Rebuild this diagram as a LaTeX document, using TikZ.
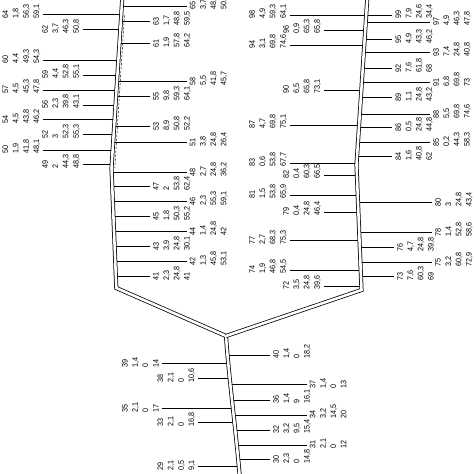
\documentclass[tikz,border=0pt]{standalone}
\usepackage{fontspec}
\setmainfont{Liberation Sans}[FakeStretch=0.9]
\usetikzlibrary{calc}

\tikzset{
  trunk/.style={double, double distance=2.6pt, line width=0.75pt, line join=miter},
  leaf/.style={line width=0.6pt},
  lab/.style={rotate=90, align=left, inner sep=0pt, font=\fontsize{8}{10.3}\selectfont},
  labl/.style={lab, anchor=south west},
  labr/.style={lab, anchor=north west},
}

\begin{document}
\begin{tikzpicture}[x=1pt, y=-1pt]
    \useasboundingbox (0,0) rectangle (474,474);
    \clip (0,0) rectangle (474,474);

    % First, locate the bends of the trunks
    \coordinate (lt0) at (122.5,-5);
    \coordinate (lt1) at (111.5,168);
    \coordinate (lt2) at (116.3,288);
    \coordinate (rt0) at (367.5,-5);
    \coordinate (rt1) at (356.5,165);
    \coordinate (rt2) at (361.5,290);
    \coordinate (jn)  at (226,336);
    \coordinate (st)  at (240,480);

    % Leaves with the label on the left
    \foreach \id/\y/\bx/\tx/\va/\vb/\vc in {
        64/14.7/121.2/43.3/{1,8}/{56,3}/{59,1},
        60/60/118.4/43.3/{4,4}/{49,3}/{54,3},
        57/90/116.5/43.3/{4,5}/{45,3}/{47,8},
        54/119.3/114.6/43.3/{4,5}/{43,8}/{46,2},
        50/150/112.6/43.3/{1,9}/{41,8}/{48,1},
        62/29.3/120.3/83/{3,7}/{46,3}/{50,8},
        59/75/117.4/83/{4,4}/{52,8}/{55,1},
        56/105/115.5/83/{2,3}/{39,8}/{43,1},
        52/134.3/113.6/83/3/{52,3}/{55,3},
        49/164.3/111.7/83/2/{44,3}/{48,8},
        98/15/366.2/290/{4,9}/{59,3}/{64,1},
        94/45/364.3/290/{3,1}/{69,8}/{74,6},
        87/125/359.1/290/{4,7}/{69,8}/{75,1},
        83/163/356.6/290/{0,6}/{53,8}/{67,7},
        81/195/357.7/290/{1,5}/{53,8}/{65,9},
        77/240.7/359.5/290/{2,7}/{68,3}/{75,3},
        74/270/360.7/290/{1,9}/{46,8}/{54,5},
        96/30/365.2/324/{0,9}/{65,3}/{65,8},
        90/90/361.4/324/{6,5}/{65,8}/{73,1},
        82/175/356.9/324/{0,4}/{60,3}/{66,5},
        79/212/358.4/324/{0,4}/{24,8}/{46,4},
        72/286/361.3/324/{3,5}/{24,8}/{39,6},
        39/363.3/228.2/161.7/{1,4}/0/14,
        35/408.3/232.8/161.7/{2,1}/0/17,
        38/378.3/229.7/198.3/{2,1}/0/{10,6},
        33/422.7/234.5/198.3/{2,1}/0/{16,8},
        29/466.7/238.8/198.3/{2,1}/{0,5}/{9,1}}{
        \coordinate (b\id) at (\bx,\y);
        \coordinate (t\id) at (\tx,\y);
        \node[labl] (n\id) at (\tx-3,\y+4) {\id\\\va\\\vb\\\vc};
        \draw[leaf] (b\id) -- (t\id);
    }

    % Leaves with the label on the right
    \foreach \id/\y/\bx/\tx/\va/\vb/\vc in {
        65/6/121.8/186.7/{3,7}/{48,3}/{50,8},
        58/81.7/117.0/186.7/{5,5}/{41,8}/{45,7},
        51/142.7/113.1/186.7/{3,8}/{24,8}/{26,4},
        48/172.7/111.7/186.7/{2,7}/{24,8}/{36,2},
        46/201.7/112.8/186.7/{2,3}/{55,3}/{59,1},
        44/231.7/114.0/186.7/{1,4}/{24,8}/42,
        42/261.7/115.2/186.7/{1,3}/{45,8}/{53,1},
        63/21.7/120.8/150/{1,7}/{48,8}/{59,5},
        61/43.3/119.4/150/{1,9}/{57,8}/{64,2},
        55/96.7/116.0/150/{9,8}/{59,3}/{64,1},
        53/126.7/114.1/150/{8,9}/{50,8}/{52,2},
        47/186.7/112.2/150/2/{53,8}/{62,4},
        45/216.7/113.4/150/{1,8}/{50,3}/{55,2},
        43/246.7/114.6/150/{3,9}/{24,8}/{30,1},
        41/276.7/115.8/150/{2,3}/{24,8}/41,
        99/15/366.2/392.3/{7,9}/{24,6}/{34,4},
        95/39.3/364.6/392.3/{4,9}/{43,3}/{46,2},
        92/68.3/362.8/392.3/{7,6}/{61,8}/68,
        89/97.7/360.9/392.3/{1,1}/{24,8}/{43,2},
        86/127.7/358.9/392.3/{0,5}/{24,8}/{44,8},
        84/156.7/357.0/392.3/{1,6}/{40,8}/62,
        76/247.3/359.8/394/{4,7}/{24,8}/{39,8},
        73/276.7/361.0/394/{7,6}/{60,3}/69,
        97/22/365.8/430/{4,9}/{46,3}/{47,8},
        93/52.7/363.8/430/{7,4}/{24,8}/{40,8},
        91/82.7/361.8/430/{6,8}/{69,8}/73,
        88/114.3/359.8/430/{5,5}/{69,8}/{74,6},
        85/142.7/357.9/430/{0,2}/{44,3}/{58,3},
        80/202.7/358.0/432/3/{24,8}/{43,4},
        78/232.7/359.2/432/{1,4}/{52,8}/{58,6},
        75/262.7/360.4/432/{3,2}/{60,8}/{72,9},
        40/355/227.5/270/{1,4}/0/{18,2},
        36/400/232.0/270/{1,4}/9/{16,1},
        32/430/235.2/270/{3,2}/{9,5}/{15,4},
        30/459.3/238.2/270/{2,3}/0/{14,8},
        37/384.3/230.4/306.7/{1,4}/0/13,
        34/415/233.6/306.7/{3,2}/{14,5}/20,
        31/445/236.8/306.7/{2,1}/0/12}{
        \coordinate (b\id) at (\bx,\y);
        \coordinate (t\id) at (\tx,\y);
        \node[labr] (n\id) at (\tx+3,\y+4) {\id\\\va\\\vb\\\vc};
        \draw[leaf] (b\id) -- (t\id);
    }

    % Now draw the trunks over the leaf ends
    \draw[trunk] (lt0) -- (lt1) -- (lt2) -- (jn) .. controls (229,380) and (236,430) .. (st);
    \draw[trunk] (rt0) -- (rt1) -- (rt2) -- (jn);

    % the broken line beside the left trunk
    \coordinate (dl0) at (124.5,15);
    \coordinate (dl1) at (114.8,168);
    \draw[line width=0.4pt, dash pattern=on 2.5pt off 1.5pt] (dl0) -- (dl1);
\end{tikzpicture}
\end{document}
